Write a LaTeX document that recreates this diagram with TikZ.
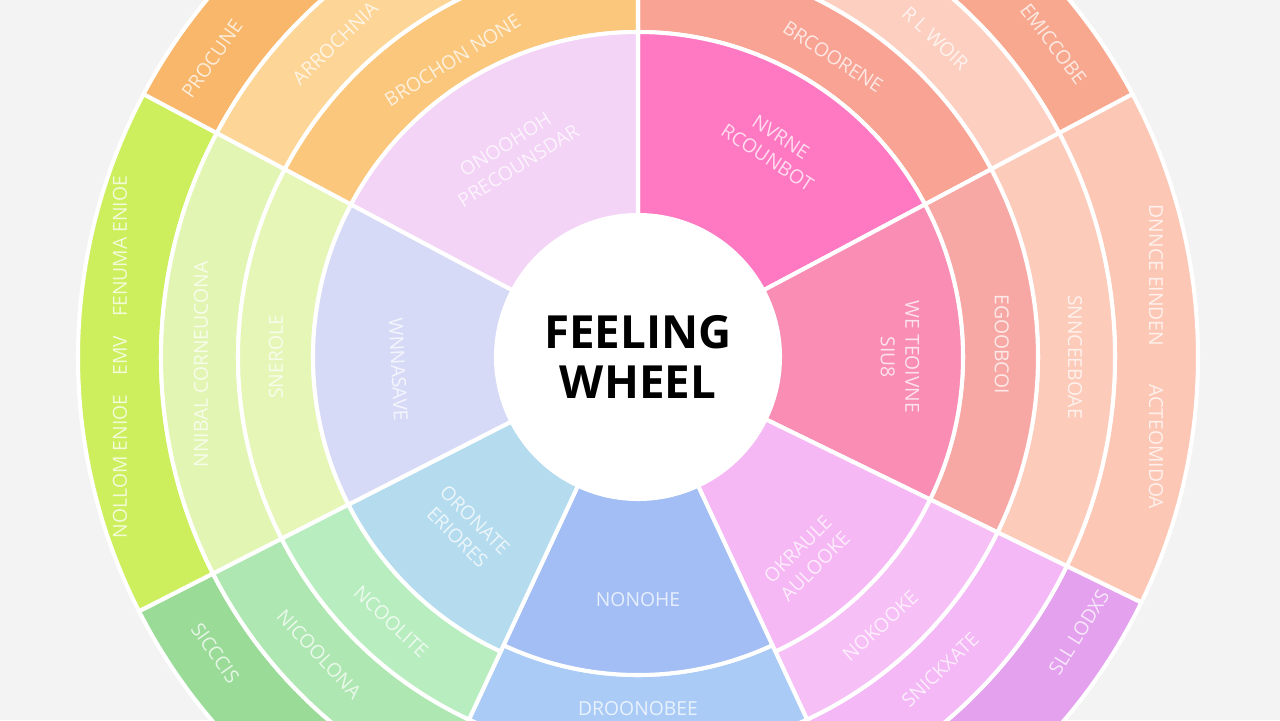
\documentclass[tikz,border=0pt]{standalone}
\usepackage{fontspec}
\setmainfont{Open Sans}
\usetikzlibrary{calc}

\definecolor{bgcol}{HTML}{F3F3F3}
% inner sectors
\definecolor{inA}{HTML}{FF78C2}
\definecolor{inB}{HTML}{F98DB3}
\definecolor{inC}{HTML}{F6B8F4}
\definecolor{inD}{HTML}{A2BEF4}
\definecolor{inE}{HTML}{B4DCEE}
\definecolor{inF}{HTML}{D7DAF7}
\definecolor{inG}{HTML}{F3D3F6}
% second ring
\definecolor{twA}{HTML}{F8A393}
\definecolor{twB}{HTML}{F7A8A4}
\definecolor{twC}{HTML}{F6BFF6}
\definecolor{twD}{HTML}{A9CBF5}
\definecolor{twE}{HTML}{B8EDBF}
\definecolor{twF}{HTML}{E5F6B7}
\definecolor{twG}{HTML}{FAC77C}
% third ring
\definecolor{thA}{HTML}{FCCFC0}
\definecolor{thB}{HTML}{FDCBBA}
\definecolor{thC}{HTML}{F3B8F5}
\definecolor{thD}{HTML}{B3D3F7}
\definecolor{thE}{HTML}{AEE7B1}
\definecolor{thF}{HTML}{E2F5B2}
\definecolor{thG}{HTML}{FDD596}
% outer ring
\definecolor{ouA}{HTML}{F8A88F}
\definecolor{ouB}{HTML}{FDC7B5}
\definecolor{ouC}{HTML}{E3A1EE}
\definecolor{ouD}{HTML}{A8C6F2}
\definecolor{ouE}{HTML}{9ADB98}
\definecolor{ouF}{HTML}{CDEF5E}
\definecolor{ouG}{HTML}{F8B76B}

% one piece of a ring: start angle, end angle, inner radius, outer radius, colour
\newcommand{\ringpart}[5]{%
  \fill[#5, draw=white, line width=2.3pt, line join=round]
    (#1:#3) arc[start angle=#1, end angle=#2, radius=#3]
    -- (#2:#4) arc[start angle=#2, end angle=#1, radius=#4] -- cycle;}

\begin{document}
\begin{tikzpicture}[x=0.02cm, y=0.02cm,
    lbl/.style={text=white, text opacity=0.75, align=center, inner sep=0pt,
      font=\fontsize{11}{14}\selectfont}]
  \fill[bgcol] (-638,-363) rectangle (642,357);
  \clip (-638,-363) rectangle (642,357);

  % sectors, outer rings first
  \foreach \a/\b/\ci/\cii/\ciii/\civ/\rr in {
      28/90/inA/twA/thA/ouA/325,
      -26/28/inB/twB/thB/ouB/325,
      -65/-26/inC/twC/thC/ouC/325,
      -115/-65/inD/twD/thD/ouD/318,
      -153/-115/inE/twE/thE/ouE/325,
      152/207/inF/twF/thF/ouF/325,
      90/152/inG/twG/thG/ouG/325}{
    \ringpart{\a}{\b}{477}{560}{\civ}
    \ringpart{\a}{\b}{400}{477}{\ciii}
    \ringpart{\a}{\b}{\rr}{400}{\cii}
    \ringpart{\a}{\b}{142}{\rr}{\ci}
  }

  % labels as printed
  \foreach \ang/\rad/\rot/\txt in {
      57/250/-33/{NVRNE\\RCOUNBOT},
      122/238/32/{ONOOHOH\\PRECOUNSDAR},
      183/240/-87/WNNASAVE,
      0/262/-90/{WE TEOIVNE\\SIU8},
      -50/262/45/{OKRAULE\\AULOOKE},
      -90/243/0/NONOHE,
      -135/243/-45/{ORONATE\\ERIORES},
      57/358/-33/BRCOORENE,
      2/364/-90/EGOOBCOI,
      -48/362/42/NOKOOKE,
      -90/352/0/DROONOBEE,
      -133/362/-43/NCOOLITE,
      180/362/90/SNEROLE,
      122/350/32/BROCHON NONE,
      47/436/-43/R L WOIR,
      0/437/-90/SNNCEEBOAE,
      -46/435/44/SNICKXATE,
      -137/436/-47/NICOOLONA,
      181/437/90/NNIBAL CORNEUCONA,
      134/436/44/ARROCHNIA,
      37/520/-53/EMICCOBE,
      0/518/-90/{DNNCE EINDEN\quad\quad ACTEOMIDOA},
      -32/520/58/SLL LODXS,
      -145/516/-55/SICCCIS,
      180/518/90/{NOLLOM ENIOE\quad EMV\quad FENUMA ENIOE},
      145/520/55/PROCUNE}{
    \node[lbl, rotate=\rot] at (\ang:\rad) {\txt};
  }

  \node (hub) [circle, fill=white, inner sep=0pt, minimum size=5.68cm] at (0,0) {};
  \node (title) [align=center, font=\bfseries\fontsize{26}{28}\selectfont] at (hub) {FEELING\\WHEEL};
\end{tikzpicture}
\end{document}
